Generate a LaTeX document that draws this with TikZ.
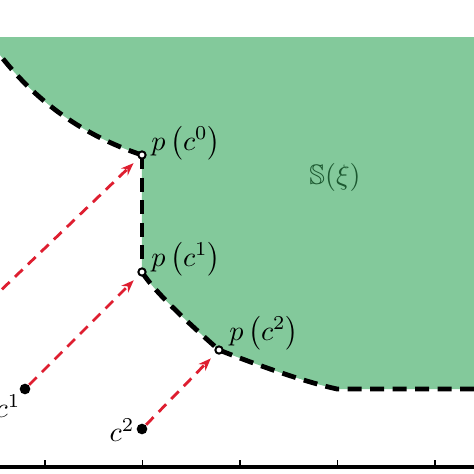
\documentclass[tikz,border=0pt]{standalone}
\usepackage{amssymb}
\usepackage{xcolor}
\usepackage{tikz}
\usetikzlibrary{positioning, shapes}
\usetikzlibrary{arrows.meta}
\definecolor{setgreen}{RGB}{131,201,155}
\definecolor{setdark}{RGB}{28,88,48}
\definecolor{projred}{RGB}{222,30,48}

\begin{document}
\begin{tikzpicture}[x=0.0125cm,y=-0.0125cm]
        \tikzset{bnd/.style = {line width=1.7pt, dash pattern=on 5pt off 3pt}}
        \tikzset{proj/.style = {projred, line width=1pt, dash pattern=on 3.8pt off 2.6pt, -{Stealth[length=4.5pt, width=3.4pt]}, shorten >=2.5pt}}
        \tikzset{pt/.style = {circle, draw, fill=white, line width=0.7pt, inner sep=0pt, minimum size=2.6pt}}
        \tikzset{dot/.style = {circle, fill=black, inner sep=0pt, minimum size=3.8pt}}

        \useasboundingbox (0,0) rectangle (474,474);
        \clip (0,0) rectangle (474,474);

        \coordinate (b0) at (142,155);
        \coordinate (b1) at (142,272);
        \coordinate (b2) at (219,350);
        \coordinate (bk) at (337,389);
        \coordinate (c0) at (-102,389);

        % the set
        \fill[setgreen] (-10,37) -- (490,37) -- (490,389) -- (bk)
            .. controls (310,383) and (270,370) .. (b2)
            .. controls (177.7,313.7) and (152,288) .. (b1) -- (b0)
            .. controls (84,135.7) and (36.7,102.3) .. (0,55) -- (-10,42) -- cycle;

        \draw[bnd] (b0) .. controls (84,135.7) and (36.7,102.3) .. (0,55) -- (-10,42);
        \draw[bnd] (b0) -- (b1);
        \draw[bnd] (b1) .. controls (152,288) and (177.7,313.7) .. (b2);
        \draw[bnd] (b2) .. controls (270,370) and (310,383) .. (bk) -- (490,389);

        \node[pt] (pc0) at (b0) {};
        \node[pt] (pc1) at (b1) {};
        \node[pt] (pc2) at (b2) {};

        \node[dot] (c1) at (25,389) {};
        \node[dot] (c2) at (142,429) {};

        \draw[proj] (c0) edge node{} (pc0);
        \draw[proj] (c1) edge node{} (pc1);
        \draw[proj] (c2) edge node{} (pc2);

        \node (lp0) at (186,143) {$p\left(c^{0}\right)$};
        \node (lp1) at (186,259) {$p\left(c^{1}\right)$};
        \node (lp2) at (264,333) {$p\left(c^{2}\right)$};
        \node[setdark] (lS) at (335,177) {$\mathbb{S}(\xi)$};
        \node (lc1) at (8,406) {$c^{1}$};
        \node (lc2) at (122,430) {$c^{2}$};

        % axis
        \draw[line width=1.6pt] (-10,467) -- (490,467);
        \foreach \x in {45,142.5,240,337.5,435}
            \draw[line width=0.5pt] (\x,467) -- (\x,460);

        \end{tikzpicture}
\end{document}
